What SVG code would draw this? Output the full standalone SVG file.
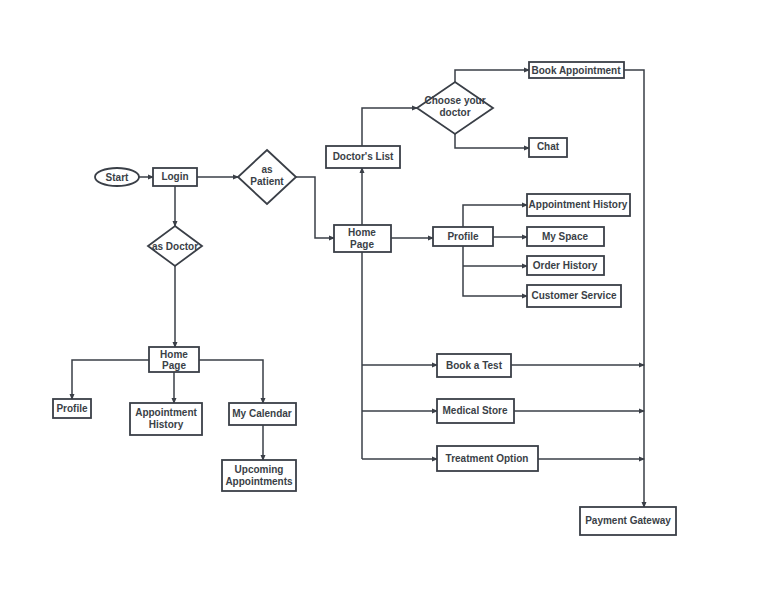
<svg xmlns="http://www.w3.org/2000/svg" width="768" height="593" viewBox="0 0 768 593">
<style>
.n{fill:#fff;stroke:#3a3f47;stroke-width:1.8}
.t{font-family:"Liberation Sans",Arial,sans-serif;font-size:10px;font-weight:bold;fill:#3a3f47;text-anchor:middle}
.c{fill:none;stroke:#3a3f47;stroke-width:1.5}
</style>
<defs><marker id="a" markerWidth="6" markerHeight="6" refX="5" refY="3" orient="auto" markerUnits="userSpaceOnUse"><path d="M0,0.5 L6,3 L0,5.5z" fill="#3a3f47"/></marker></defs>
<rect width="768" height="593" fill="#fff"/>
<g id="connectors">
<path class="c" marker-end="url(#a)" d="M139,177H153"/>
<path class="c" marker-end="url(#a)" d="M197,177H238"/>
<path class="c" marker-end="url(#a)" d="M296,177H315V238H334"/>
<path class="c" marker-end="url(#a)" d="M175,186V226"/>
<path class="c" marker-end="url(#a)" d="M175,266V347"/>
<path class="c" marker-end="url(#a)" d="M149,360H72V399"/>
<path class="c" marker-end="url(#a)" d="M174,372V403"/>
<path class="c" marker-end="url(#a)" d="M199,360H263V403"/>
<path class="c" marker-end="url(#a)" d="M263,425V460"/>
<path class="c" marker-end="url(#a)" d="M362,225V168"/>
<path class="c" marker-end="url(#a)" d="M362,146V108H417"/>
<path class="c" marker-end="url(#a)" d="M455,82V70H529"/>
<path class="c" marker-end="url(#a)" d="M455,134V148H529"/>
<path class="c" marker-end="url(#a)" d="M624,70H644V507"/>
<path class="c" marker-end="url(#a)" d="M391,238H433"/>
<path class="c" marker-end="url(#a)" d="M463,227V205H527"/>
<path class="c" marker-end="url(#a)" d="M493,237H527"/>
<path class="c" marker-end="url(#a)" d="M463,246V296H527"/>
<path class="c" marker-end="url(#a)" d="M463,266H527"/>
<path class="c" d="M362,252V459"/>
<path class="c" marker-end="url(#a)" d="M362,365H437"/>
<path class="c" marker-end="url(#a)" d="M362,411H437"/>
<path class="c" marker-end="url(#a)" d="M362,459H437"/>
<path class="c" marker-end="url(#a)" d="M511,365H644"/>
<path class="c" marker-end="url(#a)" d="M514,411H644"/>
<path class="c" marker-end="url(#a)" d="M538,459H644"/>
</g>
<g id="start"><ellipse class="n" cx="117" cy="177" rx="22" ry="9"/><text class="t" x="117" y="181">Start</text></g>
<g id="login"><rect class="n" x="153" y="168" width="44" height="18"/><text class="t" x="175" y="180">Login</text></g>
<g id="asPatient"><path class="n" d="M267,150L296,177L267,204L238,177Z"/><text class="t" x="267" y="173">as</text><text class="t" x="267" y="185">Patient</text></g>
<g id="asDoctor"><path class="n" d="M175,226L202,246L175,266L148,246Z"/><text class="t" x="175" y="250">as Doctor</text></g>
<g id="docHome"><rect class="n" x="149" y="347" width="50" height="25"/><text class="t" x="174" y="358">Home</text><text class="t" x="174" y="369">Page</text></g>
<g id="docProfile"><rect class="n" x="53" y="399" width="38" height="19"/><text class="t" x="72" y="412">Profile</text></g>
<g id="docApptHist"><rect class="n" x="130" y="403" width="72" height="32"/><text class="t" x="166" y="416">Appointment</text><text class="t" x="166" y="428">History</text></g>
<g id="myCalendar"><rect class="n" x="229" y="403" width="67" height="22"/><text class="t" x="262" y="417">My Calendar</text></g>
<g id="upcoming"><rect class="n" x="222" y="460" width="74" height="31"/><text class="t" x="259" y="473">Upcoming</text><text class="t" x="259" y="485">Appointments</text></g>
<g id="home"><rect class="n" x="334" y="225" width="57" height="27"/><text class="t" x="362" y="236">Home</text><text class="t" x="362" y="248">Page</text></g>
<g id="doctorsList"><rect class="n" x="326" y="146" width="74" height="22"/><text class="t" x="363" y="160">Doctor's List</text></g>
<g id="choose"><path class="n" d="M455,82L493,108L455,134L417,108Z"/><text class="t" x="455" y="104">Choose your</text><text class="t" x="455" y="116">doctor</text></g>
<g id="bookAppt"><rect class="n" x="529" y="62" width="95" height="16"/><text class="t" x="576" y="74">Book Appointment</text></g>
<g id="chat"><rect class="n" x="529" y="138" width="38" height="19"/><text class="t" x="548" y="150">Chat</text></g>
<g id="profile"><rect class="n" x="433" y="227" width="60" height="19"/><text class="t" x="463" y="240">Profile</text></g>
<g id="apptHist"><rect class="n" x="527" y="194" width="103" height="22"/><text class="t" x="578" y="208">Appointment History</text></g>
<g id="mySpace"><rect class="n" x="527" y="227" width="77" height="19"/><text class="t" x="565" y="240">My Space</text></g>
<g id="orderHist"><rect class="n" x="527" y="256" width="77" height="19"/><text class="t" x="565" y="269">Order History</text></g>
<g id="custService"><rect class="n" x="527" y="285" width="94" height="22"/><text class="t" x="574" y="299">Customer Service</text></g>
<g id="bookTest"><rect class="n" x="437" y="354" width="74" height="23"/><text class="t" x="474" y="369">Book a Test</text></g>
<g id="medStore"><rect class="n" x="437" y="399" width="77" height="24"/><text class="t" x="475" y="414">Medical Store</text></g>
<g id="treatment"><rect class="n" x="437" y="446" width="101" height="25"/><text class="t" x="487" y="462">Treatment Option</text></g>
<g id="payment"><rect class="n" x="580" y="507" width="96" height="28"/><text class="t" x="628" y="524">Payment Gateway</text></g>
</svg>
